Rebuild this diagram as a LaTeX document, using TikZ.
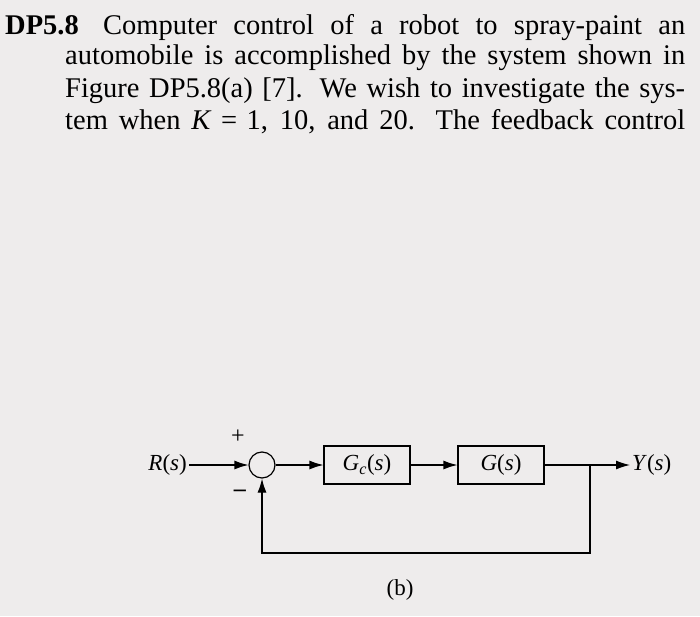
\documentclass[tikz,border=0pt]{standalone}
\usepackage{fontspec}
\setmainfont{Liberation Serif}
\usetikzlibrary{positioning, arrows.meta}
\definecolor{paper}{RGB}{238, 236, 236}

\begin{document}
\begin{tikzpicture}[x=1pt, y=1pt,
    txtline/.style={anchor=base west, inner sep=0pt, font=\fontsize{28.5}{32}\selectfont},
    blk/.style={draw, line width=1.2pt, minimum width=86pt, minimum height=38pt, font=\fontsize{23}{26}\selectfont},
    sig/.style={font=\fontsize{23}{26}\selectfont, inner sep=2pt},
    conn/.style={line width=1.2pt, -{Latex[length=14pt, width=9pt]}}
  ]
  \fill[paper] (0,0) rectangle (700,616);
  \useasboundingbox (0,0) rectangle (700,616);

  % problem text
  \node[txtline] (l1a) at (5,581) {\textbf{DP5.8}};
  \node[txtline] (l1) at (103,581) {\makebox[582pt][s]{Computer control of a robot to spray-paint an}};
  \node[txtline] (l2) at (65,551) {\makebox[620pt][s]{automobile is accomplished by the system shown in}};
  \node[txtline] (l3) at (65,518) {\makebox[620pt][s]{Figure DP5.8(a) [7]. We wish to investigate the sys-}};
  \node[txtline] (l4) at (65,486) {\makebox[620pt][s]{tem when \textit{K}\,\,=\,\,1, 10, and 20. The feedback control}};

  % block diagram
  \node[draw, circle, line width=1.2pt, minimum size=26pt, inner sep=0pt] (sum) at (262,151) {};
  \node[sig, anchor=east] (R) at (189,151) {\textit{R}(\textit{s})};
  \node[blk] (Gc) at (367,151) {\textit{G}\textsubscript{\textit{c}}(\textit{s})};
  \node[blk] (G) at (501,151) {\textit{G}(\textit{s})};
  \node[sig, anchor=west] (Y) at (630,151) {\textit{Y}(\textit{s})};
  \coordinate (br) at (590,151);
  \coordinate (fb1) at (590,63);
  \coordinate (fb2) at (262,63);
  \node[sig, font=\fontsize{24}{26}\selectfont] (plus) at (238,179) {+};
  \node[sig, font=\fontsize{24}{26}\selectfont] (minus) at (240,123) {\textbf{\textendash}};
  \node[sig] (lblb) at (400,26) {(b)};

  \draw[conn] (R) -- (sum);
  \draw[conn] (sum) -- (Gc);
  \draw[conn] (Gc) -- (G);
  \draw[line width=1.2pt] (G) -- (br);
  \draw[conn] (br) -- (Y);
  \draw[conn] (br) -- (fb1) -- (fb2) -- (sum);
\end{tikzpicture}
\end{document}
